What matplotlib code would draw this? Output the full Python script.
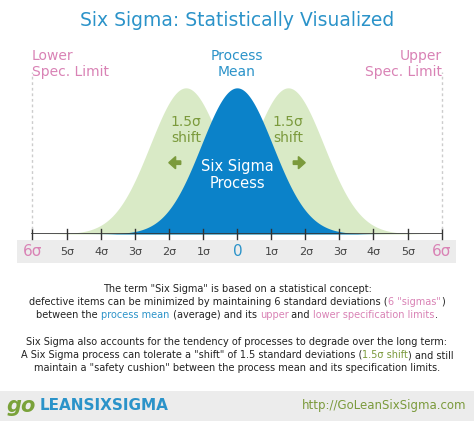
import numpy as np
import matplotlib.pyplot as plt
from matplotlib.patches import Rectangle, FancyArrow

W, H = 474, 421

# chart values
sigma_ticks = np.arange(-6, 7)
tick_labels = ['6σ', '5σ', '4σ', '3σ', '2σ', '1σ', '0', '1σ', '2σ', '3σ', '4σ', '5σ', '6σ']
process_mean = 0.0
process_sd = 1.05
shift_means = [-1.5, 1.5]
peak_height = 0.84

BLUE = '#0b82c9'
TITLE_BLUE = '#2b93c9'
PINK = '#d982b5'
GREEN = '#7b9a3c'
LIGHT_GREEN = '#d9eac6'
DARK = '#222222'

fig = plt.figure(figsize=(W / 100, H / 100), dpi=100)
fig.patch.set_facecolor('white')

def fx(px):
    return px / W

def fy(py):
    return 1 - py / H

# background panels (figure coords)
bg = fig.add_axes([0, 0, 1, 1])
bg.set_xlim(0, W)
bg.set_ylim(H, 0)
bg.axis('off')
bg.add_patch(Rectangle((17, 240), 439, 23, color='#ececec', lw=0))
bg.add_patch(Rectangle((0, 391), W, 30, color='#ececec', lw=0))

# curve axes: y=0 at pixel 234, top at pixel 60
ax = fig.add_axes([0, fy(234), 1, (234 - 60) / H])
ax.set_xlim(-W / 2 / 34.1, W / 2 / 34.1)
ax.set_ylim(0, 1)
ax.axis('off')

x = np.linspace(-6, 6, 600)
def bell(m):
    return peak_height * np.exp(-0.5 * ((x - m) / process_sd) ** 2)

for m in shift_means:
    ax.fill_between(x, 0, bell(m), color=LIGHT_GREEN, lw=0)
ax.fill_between(x, 0, bell(process_mean), color=BLUE, lw=0)

ax.plot([-6, 6], [0, 0], color='#333333', lw=1.2)
for t in sigma_ticks:
    ax.plot([t, t], [-0.03, 0.03], color='#333333', lw=1, clip_on=False)
for t in [-6, 6]:
    ax.plot([t, t], [0.03, 0.93], color='#cccccc', lw=1, ls=(0, (2, 2)))

# shift labels and arrows
for m, d in zip(shift_means, [-1, 1]):
    ax.text(m, 0.6, '1.5σ\nshift', color=GREEN, ha='center', va='center', fontsize=10, linespacing=1.2)
    ax.add_patch(FancyArrow(m + 0.15 * d, 0.41, 0.35 * d, 0, width=0.02, head_width=0.07,
                            head_length=0.2, color=GREEN, length_includes_head=True))
ax.text(0, 0.34, 'Six Sigma\nProcess', color='white', ha='center', va='center', fontsize=10.5, linespacing=1.2)

# tick labels
for t, lab in zip(sigma_ticks, tick_labels):
    px = 237.5 + t * 34.1
    if abs(t) == 6:
        c, fs = PINK, 11
    elif t == 0:
        c, fs = TITLE_BLUE, 11
    else:
        c, fs = '#444444', 8
    fig.text(fx(px), fy(252), lab, color=c, fontsize=fs, ha='center', va='center')

fig.text(0.5, fy(20), 'Six Sigma: Statistically Visualized', color=TITLE_BLUE, fontsize=13.5, ha='center', va='center')
fig.text(fx(237), fy(64), 'Process\nMean', color=TITLE_BLUE, fontsize=10, ha='center', va='center', linespacing=1.1)
fig.text(fx(32), fy(64), 'Lower\nSpec. Limit', color=PINK, fontsize=10, ha='left', va='center', linespacing=1.1)
fig.text(fx(442), fy(64), 'Upper\nSpec. Limit', color=PINK, fontsize=10, ha='right', va='center', linespacing=1.1)

def colored_line(py, parts, fs=7.0):
    r = fig.canvas.get_renderer()
    texts = []
    for s, c in parts:
        texts.append(fig.text(0, fy(py), s, color=c, fontsize=fs, va='center'))
    widths = [t.get_window_extent(r).width for t in texts]
    start = (W - sum(widths)) / 2
    for t, w in zip(texts, widths):
        t.set_x(fx(start))
        start += w

colored_line(289, [('The term "Six Sigma" is based on a statistical concept:', DARK)])
colored_line(302, [('defective items can be minimized by maintaining 6 standard deviations (', DARK),
                   ('6 "sigmas"', PINK), (')', DARK)])
colored_line(315, [('between the ', DARK), ('process mean', TITLE_BLUE), (' (average) and its ', DARK),
                   ('upper', PINK), (' and ', DARK), ('lower specification limits', PINK), ('.', DARK)])
colored_line(342, [('Six Sigma also accounts for the tendency of processes to degrade over the long term:', DARK)])
colored_line(355, [('A Six Sigma process can tolerate a "shift" of 1.5 standard deviations (', DARK),
                   ('1.5σ shift', GREEN), (') and still', DARK)])
colored_line(368, [('maintain a "safety cushion" between the process mean and its specification limits.', DARK)])

fig.text(fx(7), fy(406), 'go', color='#7aa23a', fontsize=15, fontweight='bold', style='italic', va='center')
fig.text(fx(40), fy(406), 'LEANSIXSIGMA', color=TITLE_BLUE, fontsize=11, fontweight='bold', va='center')
fig.text(fx(466), fy(406), 'http://GoLeanSixSigma.com', color=GREEN, fontsize=8.5, ha='right', va='center')

fig.savefig('out.png', dpi=100, facecolor='white')
